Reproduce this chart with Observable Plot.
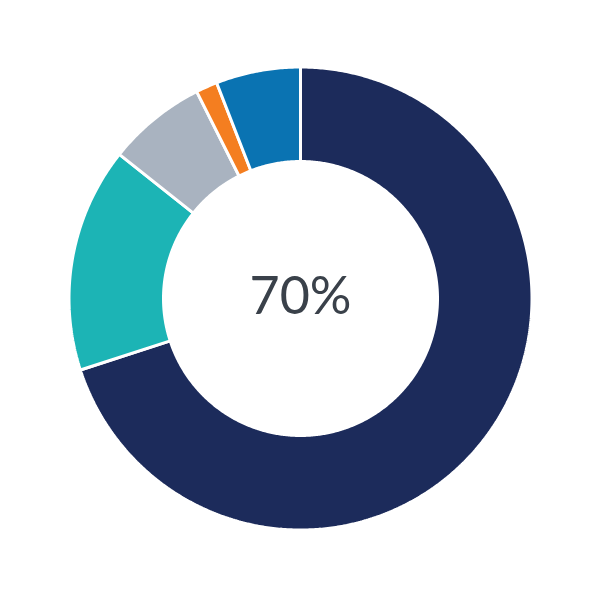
<!DOCTYPE html>
<html>
<head>
<meta charset="utf-8">
<script src="https://cdn.jsdelivr.net/npm/d3@7"></script>
<script src="https://cdn.jsdelivr.net/npm/@observablehq/plot@0.6"></script>
<style>
  html, body { margin: 0; padding: 0; background: #ffffff; }
  #chart { width: 600px; height: 599px; }
</style>
</head>
<body>
<div id="chart"></div>
<script>
// Data (clockwise from 12 o'clock)
const categories = ["Segment A", "Segment B", "Segment C", "Segment D", "Segment E"];
const values = [70, 15.7, 6.9, 1.5, 5.9];
const colors = ["#1c2b5b", "#1cb4b5", "#a9b3c0", "#f47e20", "#0a73b2"];
const centerLabel = ["70%"];

// Geometry settings
const W = 600, H = 599;
const cx = 300, cy = 298;
const R = 231.5;              // outer radius in px (data radius 1)
const innerRatio = 137 / 231.5;

// Build slice polygons from the pie layout
const pie = d3.pie().sort(null).value(d => d.value);
const arcs = pie(categories.map((name, i) => ({name, value: values[i]})));
const pts = [];
for (const a of arcs) {
  const n = Math.max(4, Math.ceil((a.endAngle - a.startAngle) / (Math.PI / 360)));
  const ring = [];
  for (let k = 0; k <= n; k++) {
    const t = a.startAngle + (a.endAngle - a.startAngle) * k / n;
    ring.push([Math.sin(t), Math.cos(t)]);
  }
  for (let k = n; k >= 0; k--) {
    const t = a.startAngle + (a.endAngle - a.startAngle) * k / n;
    ring.push([innerRatio * Math.sin(t), innerRatio * Math.cos(t)]);
  }
  ring.push(ring[0]);
  for (const [x, y] of ring) pts.push({name: a.data.name, x, y});
}

const chart = Plot.plot({
  width: W,
  height: H,
  marginLeft: cx - R,
  marginRight: W - cx - R,
  marginTop: cy - R,
  marginBottom: H - cy - R,
  x: {domain: [-1, 1], axis: null},
  y: {domain: [-1, 1], axis: null},
  color: {domain: categories, range: colors},
  style: {background: "#ffffff"},
  marks: [
    Plot.line(pts, {
      x: "x", y: "y", z: "name",
      fill: "name",
      stroke: "#ffffff",
      strokeWidth: 3,
      strokeLinejoin: "miter",
      curve: "linear"
    }),
    Plot.text(centerLabel, {
      x: () => 0, y: () => 0,
      text: d => d,
      fontSize: 52,
      fontFamily: "Lato",
      fontWeight: 400,
      fill: "#3a414a",
      dy: -1.5
    })
  ]
});
document.getElementById("chart").appendChild(chart);
</script>
</body>
</html>
